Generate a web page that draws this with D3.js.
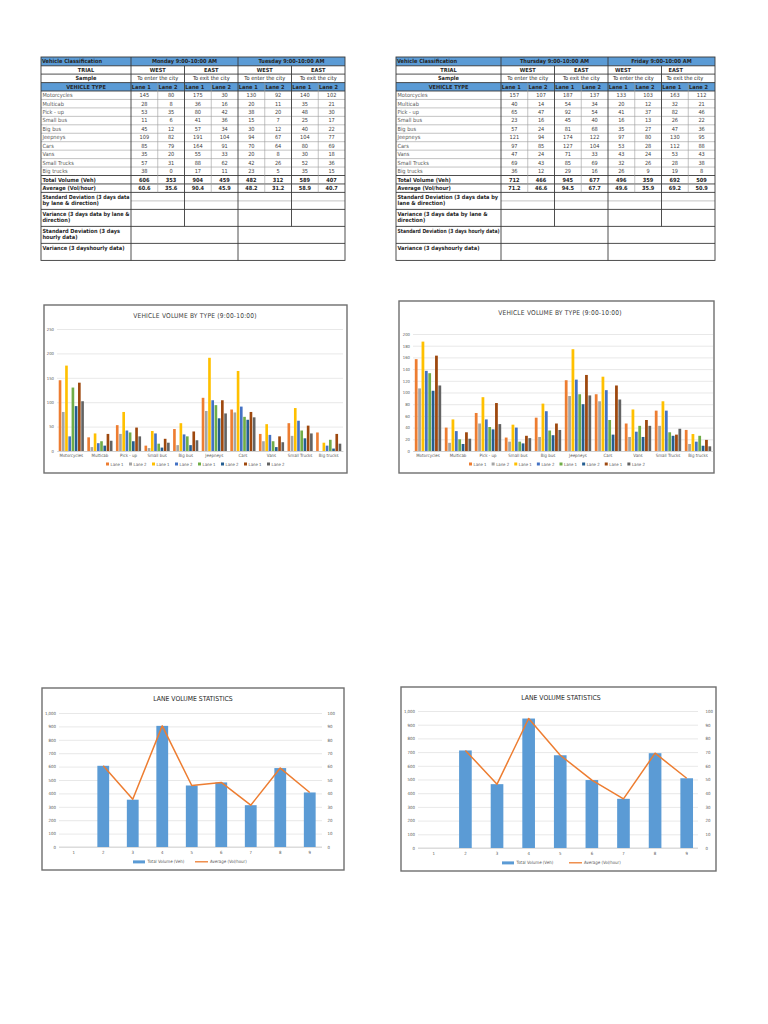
<!DOCTYPE html>
<html><head><meta charset="utf-8">
<script src="https://cdn.jsdelivr.net/npm/d3@7"></script>
<style>body{margin:0;background:#fff}svg{display:block}</style>
</head><body>
<svg id="c" width="768" height="1024"></svg>
<script>
// ---------- DATA ----------
const vehicleTypes = ["Motorcycles","Multicab","Pick - up","Small bus","Big bus","Jeepneys","Cars","Vans","Small Trucks","Big trucks"];
const laneNames = ["Lane 1","Lane 2","Lane 1","Lane 2","Lane 1","Lane 2","Lane 1","Lane 2"];
const directions = ["WEST","EAST","WEST","EAST"];
const samples = ["To enter the city","To exit the city","To enter the city","To exit the city"];
const daysA = ["Monday 9:00-10:00 AM","Tuesday 9:00-10:00 AM"];
const daysB = ["Thursday 9:00-10:00 AM","Friday 9:00-10:00 AM"];

const monWestL1 = [145,28,53,11,45,109,85,35,57,38];
const monWestL2 = [80,8,35,6,12,82,79,20,31,0];
const monEastL1 = [175,36,80,41,57,191,164,55,88,17];
const monEastL2 = [30,16,42,36,34,104,91,33,62,11];
const tueWestL1 = [130,20,38,15,30,94,70,20,42,23];
const tueWestL2 = [92,11,20,7,12,67,64,8,26,5];
const tueEastL1 = [140,35,48,25,40,104,80,30,52,35];
const tueEastL2 = [102,21,30,17,22,77,69,18,36,15];
const totalsA = [606,353,904,459,482,312,589,407];
const averagesA = [60.6,35.6,90.4,45.9,48.2,31.2,58.9,40.7];

const thuWestL1 = [157,40,65,23,57,121,97,47,69,36];
const thuWestL2 = [107,14,47,16,24,94,85,24,43,12];
const thuEastL1 = [187,54,92,45,81,174,127,71,85,29];
const thuEastL2 = [137,34,54,40,68,122,104,33,69,16];
const friWestL1 = [133,20,41,16,35,97,53,43,32,26];
const friWestL2 = [103,12,37,13,27,80,28,24,26,9];
const friEastL1 = [163,32,82,26,47,130,112,53,28,19];
const friEastL2 = [112,21,46,22,36,95,88,43,38,8];
const totalsB = [712,466,945,677,496,359,692,509];
const averagesB = [71.2,46.6,94.5,67.7,49.6,35.9,69.2,50.9];

const laneIndex = ["1","2","3","4","5","6","7","8","9"];
const barTitle = "VEHICLE VOLUME BY TYPE (9:00-10:00)";
const lineTitle = "LANE VOLUME STATISTICS";
const ticksA = [0,50,100,150,200,250];
const ticksB = [0,20,40,60,80,100,120,140,160,180,200];
const ticksVol = [0,100,200,300,400,500,600,700,800,900,1000];
const ticksAvg = [0,10,20,30,40,50,60,70,80,90,100];

// ---------- STYLE ----------
const svg = d3.select("#c");
svg.append("rect").attr("width",768).attr("height",1024).attr("fill","#fff");
const FT = "'Liberation Sans Narrow','DejaVu Sans Condensed','Liberation Sans',Arial,sans-serif";
const FC = "'Liberation Sans Narrow','DejaVu Sans Condensed','Open Sans',Arial,sans-serif";
const seriesColors = ["#ED7D31","#A5A5A5","#FFC000","#4472C4","#70AD47","#255E91","#9E480E","#636363"];
const HEAD = "#5B9BD5";

function fitText(sel, maxW){
  sel.each(function(){
    const w = this.getComputedTextLength();
    if (w > maxW) d3.select(this).attr("textLength", maxW).attr("lengthAdjust","spacingAndGlyphs");
  });
}

// ---------- TABLE ----------
function drawTable(o){
  const g = svg.append("g").attr("font-family", FT).attr("font-size", 5.6).attr("fill","#262626");
  const cx = i => o.x0 + o.labelW + i*o.colW;
  const xEnd = cx(8);
  const tops = [57, 65.8, 74.1, 82.6];
  const dH = 8.45, tH = 17;
  const dTop = i => 91 + i*dH;
  const tallTop = k => 91 + 12*dH + k*tH;
  const yEnd = tallTop(4);

  // fills
  g.append("rect").attr("x",o.x0).attr("y",tops[0]).attr("width",xEnd-o.x0).attr("height",tops[1]-tops[0]).attr("fill",HEAD);
  g.append("rect").attr("x",o.x0).attr("y",tops[3]).attr("width",xEnd-o.x0).attr("height",91-tops[3]).attr("fill",HEAD);

  const line = (x1,y1,x2,y2,strong) => g.append("line").attr("x1",x1).attr("y1",y1).attr("x2",x2).attr("y2",y2)
    .attr("stroke", strong ? "#3a3a3a" : "#9a9a9a").attr("stroke-width", strong ? 0.9 : 0.6);

  // horizontals
  [tops[1],tops[2],tops[3],91].forEach(y=>line(o.x0,y,xEnd,y,true));
  for (let i=1;i<=12;i++) line(o.x0,dTop(i),xEnd,dTop(i), i>=10);
  for (let k=1;k<4;k++) line(o.x0,tallTop(k),xEnd,tallTop(k),true);
  line(o.labelW+o.x0, tallTop(0)+tH/2, xEnd, tallTop(0)+tH/2, false);
  // outer
  g.append("rect").attr("x",o.x0).attr("y",tops[0]).attr("width",xEnd-o.x0).attr("height",yEnd-tops[0])
    .attr("fill","none").attr("stroke","#3a3a3a").attr("stroke-width",0.9);
  // verticals
  line(cx(0),tops[0],cx(0),yEnd,true);
  line(cx(4),tops[0],cx(4),yEnd,true);
  [2,6].forEach(i=>line(cx(i),tops[1],cx(i),tallTop(2),true));
  [1,3,5,7].forEach(i=>line(cx(i),tops[3],cx(i),dTop(12),false));

  // header text
  g.append("text").attr("x",o.x0+1).attr("y",tops[0]+6.2).attr("font-weight","bold").text("Vehicle Classification");
  o.days.forEach((d,i)=>g.append("text").attr("x",(cx(i*4)+cx(i*4+4))/2).attr("y",tops[0]+6.2)
    .attr("text-anchor","middle").attr("font-weight","bold").text(d));
  g.append("text").attr("x",o.x0+o.labelW/2).attr("y",tops[1]+6).attr("text-anchor","middle").attr("font-weight","bold").text("TRIAL");
  g.append("text").attr("x",o.x0+o.labelW/2).attr("y",tops[2]+6.1).attr("text-anchor","middle").attr("font-weight","bold").text("Sample");
  directions.forEach((d,i)=>{
    const left = o.leftDir && i>=2;
    g.append("text").attr("x", left ? cx(i*2)+7 : (cx(i*2)+cx(i*2+2))/2).attr("y",tops[1]+6)
      .attr("text-anchor", left ? "start" : "middle").attr("font-weight","bold").text(d);
  });
  samples.forEach((d,i)=>{
    const left = o.leftDir && i>=2;
    g.append("text").attr("x", left ? cx(i*2)+5 : (cx(i*2)+cx(i*2+2))/2).attr("y",tops[2]+6.1)
      .attr("text-anchor", left ? "start" : "middle").text(d);
  });
  g.append("text").attr("x",o.x0+o.labelW/2).attr("y",tops[3]+6.1).attr("text-anchor","middle").attr("font-weight","bold").text("VEHICLE TYPE");
  laneNames.forEach((d,i)=>g.append("text").attr("x",cx(i)+0.8).attr("y",tops[3]+6.1).attr("font-weight","bold").text(d));

  // data rows
  vehicleTypes.forEach((v,r)=>{
    g.append("text").attr("x",o.x0+1.5).attr("y",dTop(r)+6.1).attr("fill","#595959").text(v);
    o.cols.forEach((col,i)=>g.append("text").attr("x",cx(i)+o.colW/2).attr("y",dTop(r)+6.1)
      .attr("text-anchor","middle").attr("fill","#404040").text(col[r]));
  });
  const bold = [["Total Volume (Veh)",o.totals],["Average (Vol/hour)",o.avgs]];
  bold.forEach(([lab,vals],k)=>{
    const r = 10+k;
    g.append("text").attr("x",o.x0+1.5).attr("y",dTop(r)+6.1).attr("font-weight","bold").text(lab);
    vals.forEach((val,i)=>g.append("text").attr("x",cx(i)+o.colW/2).attr("y",dTop(r)+6.1)
      .attr("text-anchor","middle").attr("font-weight","bold").text(k===1 ? val.toFixed(1) : val));
  });
  o.tallLabels.forEach((lines,k)=>{
    lines.forEach((t,j)=>{
      g.append("text").attr("x",o.x0+1.5).attr("y",tallTop(k)+6.2+j*6.6).attr("font-weight","bold").text(t)
        .call(fitText, o.labelW-3);
    });
  });
  g.selectAll("text").call(fitText, 400);
}

drawTable({x0:41, labelW:90, colW:26.75, days:daysA,
  cols:[monWestL1,monWestL2,monEastL1,monEastL2,tueWestL1,tueWestL2,tueEastL1,tueEastL2],
  totals:totalsA, avgs:averagesA, leftDir:false,
  tallLabels:[["Standard Deviation (3 days data","by lane & direction)"],["Variance (3 days data by lane &","direction)"],
    ["Standard Deviation (3 days","hourly data)"],["Variance (3 dayshourly data)"]]});
drawTable({x0:396, labelW:105, colW:26.75, days:daysB,
  cols:[thuWestL1,thuWestL2,thuEastL1,thuEastL2,friWestL1,friWestL2,friEastL1,friEastL2],
  totals:totalsB, avgs:averagesB, leftDir:true,
  tallLabels:[["Standard Deviation (3 days data by","lane & direction)"],["Variance (3 days data by lane &","direction)"],
    ["Standard Deviation (3 days hourly data)"],["Variance (3 dayshourly data)"]]});

// ---------- BAR CHART ----------
function drawBarChart(o){
  const g = svg.append("g").attr("font-family", FC);
  g.append("rect").attr("x",o.frame[0]).attr("y",o.frame[1]).attr("width",o.frame[2]-o.frame[0]).attr("height",o.frame[3]-o.frame[1])
    .attr("fill","#fff").attr("stroke","#6e6e6e").attr("stroke-width",1.4);
  g.append("text").attr("x",o.titleX).attr("y",o.titleY).attr("text-anchor","middle").attr("font-size",6.6)
    .attr("fill","#404040").attr("letter-spacing",0.2).text(barTitle);
  const x = d3.scaleBand().domain(vehicleTypes).range([o.px1,o.px2]).paddingInner(0.12).paddingOuter(0.06);
  const xs = d3.scaleBand().domain(d3.range(8)).range([0,x.bandwidth()]).paddingInner(0.18);
  const y = d3.scaleLinear().domain([0,o.yMax]).range([o.py0,o.py1]);
  const yAxis = d3.axisLeft(y).tickValues(o.ticks).tickSize(-(o.px2-o.px1)).tickPadding(3);
  const ga = g.append("g").attr("transform",`translate(${o.px1},0)`).call(yAxis);
  ga.select(".domain").remove();
  ga.selectAll(".tick line").attr("stroke","#d9d9d9").attr("stroke-width",0.6);
  ga.selectAll(".tick text").attr("font-size",4.2).attr("fill","#595959").attr("font-family",FC);
  const xa = g.append("g").attr("transform",`translate(0,${o.py0})`).call(d3.axisBottom(x).tickSize(0).tickPadding(3));
  xa.select(".domain").attr("stroke","#bfbfbf").attr("stroke-width",0.6);
  xa.selectAll(".tick text").attr("font-size",4.4).attr("fill","#595959").attr("font-family",FC);
  o.series.forEach((s,si)=>{
    g.append("g").selectAll("rect").data(s).join("rect")
      .attr("x",(d,i)=>x(vehicleTypes[i])+xs(si)).attr("width",xs.bandwidth())
      .attr("y",d=>y(d)).attr("height",d=>o.py0-y(d)).attr("fill",seriesColors[si]);
  });
  const step = (o.legend[1]-o.legend[0])/8;
  laneNames.forEach((n,i)=>{
    const lx = o.legend[0]+i*step;
    g.append("rect").attr("x",lx).attr("y",o.legend[2]-3).attr("width",3).attr("height",3).attr("fill",seriesColors[i]);
    g.append("text").attr("x",lx+4.5).attr("y",o.legend[2]).attr("font-size",4.3).attr("fill","#595959").text(n);
  });
}
drawBarChart({frame:[44,305,347,473], titleX:195, titleY:318, px1:57, px2:343, py0:451, py1:329, yMax:250, ticks:ticksA,
  series:[monWestL1,monWestL2,monEastL1,monEastL2,tueWestL1,tueWestL2,tueEastL1,tueEastL2], legend:[106,290,465.5]});
drawBarChart({frame:[399,301,714,473], titleX:560, titleY:315, px1:413, px2:713, py0:451, py1:334, yMax:200, ticks:ticksB,
  series:[thuWestL1,thuWestL2,thuEastL1,thuEastL2,friWestL1,friWestL2,friEastL1,friEastL2], legend:[469,650,465.5]});

// ---------- LINE / BAR COMBO ----------
function drawCombo(o){
  const g = svg.append("g").attr("font-family", FC);
  g.append("rect").attr("x",o.frame[0]).attr("y",o.frame[1]).attr("width",o.frame[2]-o.frame[0]).attr("height",o.frame[3]-o.frame[1])
    .attr("fill","#fff").attr("stroke","#6e6e6e").attr("stroke-width",1.4);
  g.append("text").attr("x",o.titleX).attr("y",o.titleY).attr("text-anchor","middle").attr("font-size",6.8)
    .attr("fill","#262626").text(lineTitle);
  const x = d3.scaleBand().domain(laneIndex).range([o.px1,o.px2]).paddingInner(0.6).paddingOuter(0.3);
  const xp = d3.scalePoint().domain(laneIndex).range([o.px1,o.px2]).padding(0.5);
  const yL = d3.scaleLinear().domain([0,1000]).range([o.py0,o.py1]);
  const yR = d3.scaleLinear().domain([0,100]).range([o.py0,o.py1]);
  const al = g.append("g").attr("transform",`translate(${o.px1},0)`)
    .call(d3.axisLeft(yL).tickValues(ticksVol).tickSize(-(o.gx2-o.px1)).tickPadding(3));
  al.select(".domain").remove();
  al.selectAll(".tick line").attr("stroke","#d9d9d9").attr("stroke-width",0.6);
  al.selectAll(".tick text").attr("font-size",4.3).attr("fill","#595959").attr("font-family",FC);
  const ar = g.append("g").attr("transform",`translate(${o.px2},0)`)
    .call(d3.axisRight(yR).tickValues(ticksAvg).tickSize(0).tickPadding(3));
  ar.select(".domain").remove();
  ar.selectAll(".tick text").attr("font-size",4.3).attr("fill","#595959").attr("font-family",FC);
  const ax = g.append("g").attr("transform",`translate(0,${o.py0})`).call(d3.axisBottom(x).tickSize(0).tickPadding(3.5));
  ax.select(".domain").attr("stroke","#bfbfbf").attr("stroke-width",0.6).attr("d",`M${o.px1},0H${o.gx2}`);
  ax.selectAll(".tick text").attr("font-size",4.3).attr("fill","#595959").attr("font-family",FC);
  const cats = laneIndex.slice(1);
  g.append("g").selectAll("rect").data(o.totals).join("rect")
    .attr("x",(d,i)=>x(cats[i])).attr("width",x.bandwidth())
    .attr("y",d=>yL(d)).attr("height",d=>o.py0-yL(d)).attr("fill","#5B9BD5");
  g.append("path").datum(o.avgs).attr("fill","none").attr("stroke","#ED7D31").attr("stroke-width",1.5)
    .attr("stroke-linejoin","round")
    .attr("d", d3.line().x((d,i)=>xp(cats[i])).y(d=>yR(d)));
  // legend
  const L = o.legend;
  g.append("rect").attr("x",L[0]).attr("y",L[2]-2.6).attr("width",12).attr("height",3).attr("fill","#5B9BD5");
  g.append("text").attr("x",L[0]+14.5).attr("y",L[2]).attr("font-size",4.4).attr("fill","#595959").text("Total Volume (Veh)");
  g.append("line").attr("x1",L[1]).attr("x2",L[1]+13).attr("y1",L[2]-1.2).attr("y2",L[2]-1.2).attr("stroke","#ED7D31").attr("stroke-width",1.3);
  g.append("text").attr("x",L[1]+15).attr("y",L[2]).attr("font-size",4.4).attr("fill","#595959").text("Average (Vol/hour)");
}
drawCombo({frame:[42,688,344,870], titleX:193, titleY:701, px1:59, px2:324.5, gx2:322, py0:847, py1:713,
  totals:totalsA, avgs:averagesA, legend:[133,195,863]});
drawCombo({frame:[401,687,716,871], titleX:561, titleY:700, px1:418, px2:702.5, gx2:698, py0:848, py1:711,
  totals:totalsB, avgs:averagesB, legend:[502,569,864]});
</script>
</body></html>
